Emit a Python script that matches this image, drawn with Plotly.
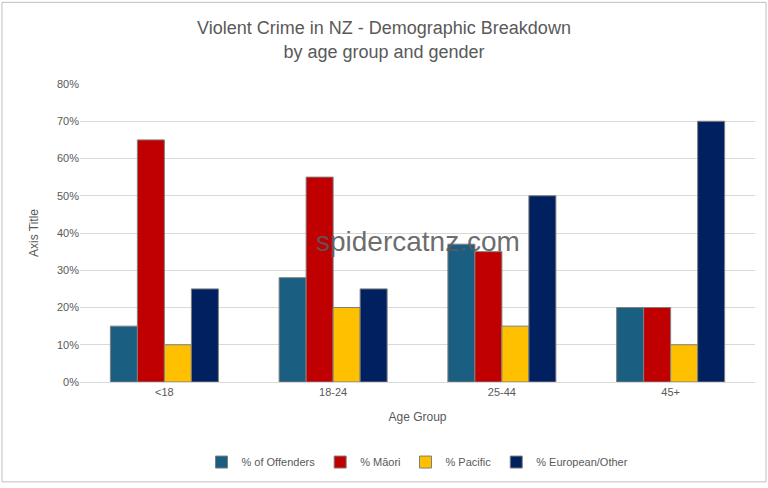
import plotly.graph_objects as go

age_groups = ["<18", "18-24", "25-44", "45+"]
offenders = [0.15, 0.28, 0.37, 0.20]
maori = [0.65, 0.55, 0.35, 0.20]
pacific = [0.10, 0.20, 0.15, 0.10]
european = [0.25, 0.25, 0.50, 0.70]

series = [
    ("% of Offenders", offenders, "#1A5E82"),
    ("% Māori", maori, "#C00000"),
    ("% Pacific", pacific, "#FFC000"),
    ("% European/Other", european, "#002060"),
]

fig = go.Figure()
for name, vals, color in series:
    fig.add_trace(go.Bar(
        x=age_groups, y=vals, name=name,
        marker=dict(color=color, line=dict(color="#7f7f7f", width=1)),
    ))

fig.update_layout(
    width=768, height=488,
    paper_bgcolor="white", plot_bgcolor="white",
    font=dict(family="Liberation Sans, Arial", color="#595959", size=11),
    title=dict(
        text="Violent Crime in NZ - Demographic Breakdown<br>by age group and gender",
        x=0.5, xanchor="center", y=0.93, yanchor="top",
        font=dict(size=18, color="#595959"),
    ),
    barmode="group", bargap=0.36, bargroupgap=0.0,
    margin=dict(l=80, r=13, t=84, b=100),
    xaxis=dict(
        title=dict(text="Age Group", font=dict(size=12, color="#595959")),
        showline=True, linecolor="#d9d9d9", ticks="",
        tickfont=dict(color="#595959"),
    ),
    yaxis=dict(
        title=dict(text="Axis Title", font=dict(size=12, color="#595959")),
        range=[0, 0.8], dtick=0.1, tickformat=".0%",
        gridcolor="#d9d9d9", zeroline=False,
        tickfont=dict(color="#595959"),
    ),
    legend=dict(
        orientation="h", x=0.5, xanchor="center", y=-0.22, yanchor="top",
        font=dict(size=11, color="#595959"), bgcolor="rgba(0,0,0,0)",
    ),
    annotations=[dict(
        text="spidercatnz.com", x=0.5, y=0.47, xref="paper", yref="paper",
        showarrow=False, font=dict(size=28, color="rgba(90,90,90,0.9)"),
    )],
    shapes=[dict(
        type="rect", xref="paper", yref="paper", x0=-0.1156, y0=-0.335, x1=1.0163, y1=1.274,
        line=dict(color="#bfbfbf", width=1),
    )],
)

fig.write_html("out.html", config={"displayModeBar": False},
               post_script="document.body.style.margin='0';")
